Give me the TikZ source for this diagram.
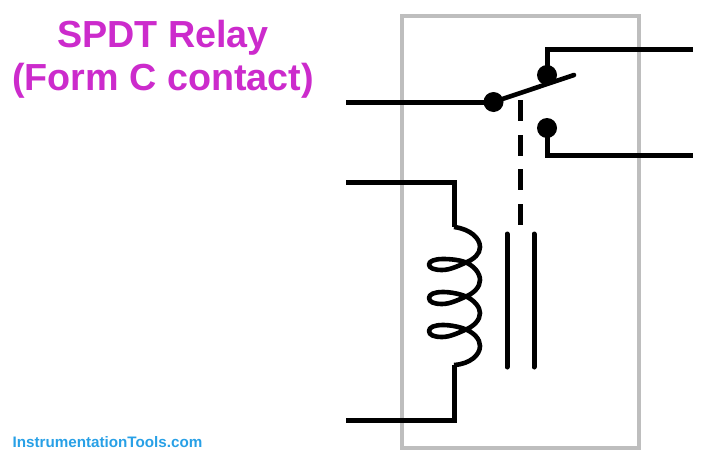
\documentclass[tikz,border=0pt]{standalone}
\usepackage{fontspec}
\setmainfont{Liberation Sans}
\definecolor{titlecol}{RGB}{204,43,204}
\definecolor{markcol}{RGB}{40,160,230}
\definecolor{boxcol}{RGB}{190,190,190}
\tikzset{
  wire/.style={black,line width=5pt,line join=miter},
  thinwire/.style={black,line width=5pt,line cap=round},
  dashpiece/.style={black,line width=5pt},
  coilwire/.style={black,line width=4.6pt,line join=round},
  contact/.style={circle,fill=black,inner sep=0pt,minimum size=20pt},
  titletext/.style={text=titlecol,font=\bfseries\fontsize{37.7pt}{43pt}\selectfont,align=center},
  marktext/.style={text=markcol,font=\bfseries\fontsize{15.2pt}{17pt}\selectfont}
}
\begin{document}
\begin{tikzpicture}[x=1pt,y=-1pt]
\useasboundingbox (0,0) rectangle (720,458);
\node[draw=boxcol,line width=4.4pt,minimum width=237pt,minimum height=432pt,inner sep=0pt] (relaybox) at (520.5,232) {};
\node[titletext] (title) at (163,59.5) {SPDT Relay\\(Form C contact)};
\node[marktext] (mark) at (107.5,442) {InstrumentationTools.com};
\node[contact] (common) at (493.5,102) {};
\node[contact] (no) at (547,75) {};
\node[contact] (nc) at (547,128) {};
\coordinate (commonin) at (346,102);
\coordinate (armend) at (574,75);
\coordinate (noout) at (693,49);
\coordinate (ncout) at (693,155);
\coordinate (coilina) at (346,182);
\coordinate (coilinb) at (346,420);
\coordinate (coiltop) at (454,227);
\coordinate (coilbot) at (454,365);
\draw[wire] (commonin) -- (common.center);
\draw[black,line width=4.6pt,line cap=round] (common.center) -- (armend);
\draw[wire] (no.center) -- (547,49) -- (noout);
\draw[wire] (nc.center) -- (547,155) -- (ncout);
\draw[dashpiece] (520,100) -- (520,121);
\draw[dashpiece] (520,135) -- (520,156);
\draw[dashpiece] (520,169) -- (520,190);
\draw[dashpiece] (520,204) -- (520,225);
\draw[wire] (coilina) -- (454,182) -- (coiltop);
\draw[wire] (coilbot) -- (454,420) -- (coilinb);
\draw[coilwire]
  (coiltop) .. controls (470,229) and (480,238) .. (480,247)
  .. controls (480,254) and (474,259) .. (466,262.5)
  .. controls (458,266) and (450,270) .. (442,270)
  .. controls (434,270) and (429,268) .. (429,264.5)
  .. controls (429,261) and (435,259) .. (443,259)
  .. controls (451,259) and (460,260) .. (466,262.5)
  .. controls (474,266) and (480,273) .. (480,280)
  .. controls (480,287) and (474,293) .. (466,296.5)
  .. controls (458,300) and (450,304) .. (442,304)
  .. controls (434,304) and (429,302) .. (429,298)
  .. controls (429,294) and (435,292) .. (443,292)
  .. controls (451,292) and (460,294) .. (466,296.5)
  .. controls (474,300) and (480,307) .. (480,313)
  .. controls (480,320) and (474,326) .. (466,329.5)
  .. controls (458,333) and (450,337) .. (442,337)
  .. controls (434,337) and (429,335) .. (429,331)
  .. controls (429,327) and (435,325) .. (443,325)
  .. controls (451,325) and (460,327) .. (466,329.5)
  .. controls (474,333) and (480,339) .. (480,346)
  .. controls (480,355) and (470,364) .. (coilbot);
\draw[thinwire] (507,234) -- (507,367);
\draw[thinwire] (534,234) -- (534,367);
\end{tikzpicture}
\end{document}
